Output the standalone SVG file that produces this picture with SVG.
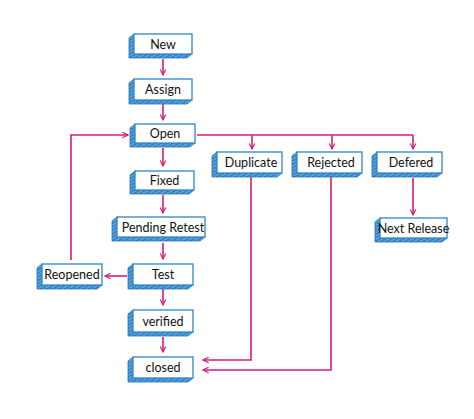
<svg xmlns="http://www.w3.org/2000/svg" width="474" height="419" viewBox="0 0 474 419">
<style>
.d{fill:url(#h);stroke:#2574b8;stroke-width:0.8}
.f{fill:#fff;stroke:#2f86c8;stroke-width:1.3}
.t{font-family:Lato,"Noto Sans",sans-serif;font-size:12.5px;fill:#111;text-anchor:middle;dominant-baseline:central}
.c{fill:none;stroke:#d81b7a;stroke-width:1.6}
</style>
<defs>
<pattern id="h" width="3" height="3" patternUnits="userSpaceOnUse" patternTransform="rotate(60)">
<rect width="3" height="3" fill="#5fa8e0"/>
<rect width="1.3" height="3" fill="#2a78bd"/>
</pattern>
<marker id="a" viewBox="0 0 10 10" refX="9" refY="5" markerWidth="7" markerHeight="7" orient="auto" markerUnits="userSpaceOnUse">
<path d="M1,1 L9,5 L1,9" fill="none" stroke="#d81b7a" stroke-width="1.6"/>
</marker>
</defs>
<rect width="474" height="419" fill="#fff"/>
<g id="connectors">
<path class="c" marker-end="url(#a)" d="M163,59 V75"/>
<path class="c" marker-end="url(#a)" d="M163,104 V120"/>
<path class="c" marker-end="url(#a)" d="M163,148 V166"/>
<path class="c" marker-end="url(#a)" d="M163,195 V213"/>
<path class="c" marker-end="url(#a)" d="M163,243 V259"/>
<path class="c" marker-end="url(#a)" d="M163,289 V305"/>
<path class="c" marker-end="url(#a)" d="M163,337 V352"/>
<path class="c" d="M197,135 H413"/>
<path class="c" marker-end="url(#a)" d="M252,135 V149"/>
<path class="c" marker-end="url(#a)" d="M332,135 V149"/>
<path class="c" marker-end="url(#a)" d="M413,135 V149"/>
<path class="c" marker-end="url(#a)" d="M413,178 V215"/>
<path class="c" marker-end="url(#a)" d="M251,177 V360 H203"/>
<path class="c" marker-end="url(#a)" d="M331,177 V370 H203"/>
<path class="c" marker-end="url(#a)" d="M127,276 H105"/>
<path class="c" marker-end="url(#a)" d="M71,260 V135 H128"/>
</g>
<g id="new"><polygon class="d" points="134,34 129,38 129,58 187,58 192,54"/><rect class="f" x="134" y="34" width="58" height="20"/><text class="t" x="163" y="44">New</text></g>
<g id="assign"><polygon class="d" points="134,79 129,83 129,104 187,104 192,100"/><rect class="f" x="134" y="79" width="58" height="21"/><text class="t" x="163" y="89.5">Assign</text></g>
<g id="open"><polygon class="d" points="135,124 130,128 130,147 190,147 195,143"/><rect class="f" x="135" y="124" width="60" height="19"/><text class="t" x="165" y="133.5">Open</text></g>
<g id="fixed"><polygon class="d" points="135,171 130,175 130,194 189,194 194,190"/><rect class="f" x="135" y="171" width="59" height="19"/><text class="t" x="164.5" y="180.5">Fixed</text></g>
<g id="pending"><polygon class="d" points="117,217 112,221 112,241 200,241 205,237"/><rect class="f" x="117" y="217" width="88" height="20"/><text class="t" x="163" y="227">Pending Retest</text></g>
<g id="test"><polygon class="d" points="133,264 128,268 128,289 188,289 193,285"/><rect class="f" x="133" y="264" width="60" height="21"/><text class="t" x="163" y="274.5">Test</text></g>
<g id="reopened"><polygon class="d" points="42,264 37,268 37,289 97,289 102,285"/><rect class="f" x="42" y="264" width="60" height="21"/><text class="t" x="72" y="274.5">Reopened</text></g>
<g id="verified"><polygon class="d" points="133,310 128,314 128,336 188,336 193,332"/><rect class="f" x="133" y="310" width="60" height="22"/><text class="t" x="163" y="321">verified</text></g>
<g id="closed"><polygon class="d" points="133,357 128,361 128,382 188,382 193,378"/><rect class="f" x="133" y="357" width="60" height="21"/><text class="t" x="163" y="367.5">closed</text></g>
<g id="duplicate"><polygon class="d" points="217,152 212,156 212,177 277,177 282,173"/><rect class="f" x="217" y="152" width="65" height="21"/><text class="t" x="251" y="162.5">Duplicate</text></g>
<g id="rejected"><polygon class="d" points="297,152 292,156 292,177 357,177 362,173"/><rect class="f" x="297" y="152" width="65" height="21"/><text class="t" x="331" y="162.5">Rejected</text></g>
<g id="defered"><polygon class="d" points="377,152 372,156 372,177 437,177 442,173"/><rect class="f" x="377" y="152" width="65" height="21"/><text class="t" x="411" y="162.5">Defered</text></g>
<g id="nextrelease"><polygon class="d" points="380,218 375,222 375,242 442,242 447,238"/><rect class="f" x="380" y="218" width="67" height="20"/><text class="t" x="413.5" y="228">Next Release</text></g>
</svg>
